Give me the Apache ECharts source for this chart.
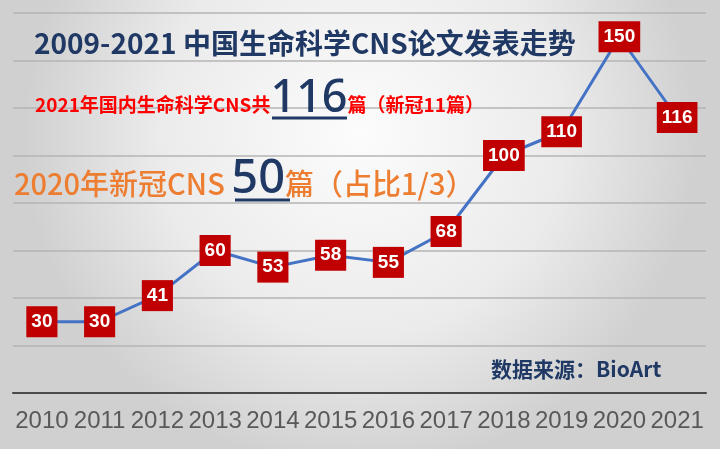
<!DOCTYPE html>
<html>
<head>
<meta charset="utf-8">
<script src="https://cdn.jsdelivr.net/npm/echarts@6/dist/echarts.min.js"></script>
<style>
  html, body { margin: 0; padding: 0; }
  #main { width: 720px; height: 449px; }
</style>
</head>
<body>
<div id="main"></div>
<script>
// 年份与论文数
const years = ['2010', '2011', '2012', '2013', '2014', '2015', '2016', '2017', '2018', '2019', '2020', '2021']
const papers = [30, 30, 41, 60, 53, 58, 55, 68, 100, 110, 150, 116]

const cjk = '"Noto Sans CJK SC", "Liberation Sans", sans-serif'
const navy = '#1F3864'

const chart = echarts.init(document.getElementById('main'))

const option = {
  backgroundColor: {
    type: 'radial', x: 0.5, y: 0.3, r: 0.75,
    colorStops: [
      { offset: 0, color: '#fcfcfc' },
      { offset: 0.6, color: '#ebebeb' },
      { offset: 1, color: '#d0d0d0' }
    ]
  },
  title: [
    {
      text: '2009-2021 中国生命科学CNS论文发表走势',
      left: 29, top: 24,
      textStyle: { fontFamily: cjk, fontSize: 28, fontWeight: 'bold', color: navy }
    },
    {
      text: '{a|2021年国内生命科学CNS共}{b|116}{a|篇（新冠11篇）}',
      left: 30, top: 71,
      textStyle: {
        rich: {
          a: { fontFamily: cjk, fontSize: 19, fontWeight: 'bold', color: '#FF0000', verticalAlign: 'bottom', lineHeight: 30, padding: [0, 0, 8, 0] },
          b: { fontFamily: '"Noto Sans", sans-serif', fontSize: 45, fontWeight: 500, color: navy, verticalAlign: 'bottom', lineHeight: 46 }
        }
      }
    },
    {
      text: '{a|2020年新冠CNS }{b|50}{a|篇（占比1/3）}',
      left: 9, top: 150,
      textStyle: {
        rich: {
          a: { fontFamily: cjk, fontSize: 29, fontWeight: 500, color: '#ED7D31', verticalAlign: 'bottom', lineHeight: 40, padding: [0, 0, 5, 0] },
          b: { fontFamily: '"Noto Sans", sans-serif', fontSize: 47, fontWeight: 500, color: navy, verticalAlign: 'bottom', lineHeight: 48 }
        }
      }
    },
    {
      text: '数据来源：BioArt',
      left: 486, top: 354,
      textStyle: { fontFamily: cjk, fontSize: 21, fontWeight: 'bold', color: navy }
    }
  ],
  graphic: [
    { type: 'line', shape: { x1: 272, y1: 118, x2: 347, y2: 118 }, style: { stroke: navy, lineWidth: 3 } },
    { type: 'line', shape: { x1: 235, y1: 200, x2: 290, y2: 200 }, style: { stroke: navy, lineWidth: 3 } }
  ],
  grid: { left: 13, right: 14, top: 13, bottom: 56 },
  xAxis: {
    type: 'category',
    data: years,
    boundaryGap: true,
    axisLine: { lineStyle: { color: '#4a4a4a', width: 2 } },
    axisTick: { show: false },
    axisLabel: {
      interval: 0, margin: 16,
      fontFamily: '"Liberation Sans", sans-serif', fontSize: 24, color: '#595959'
    }
  },
  yAxis: {
    type: 'value',
    min: 0, max: 160, interval: 20,
    axisLabel: { show: false },
    axisLine: { show: false },
    axisTick: { show: false },
    splitLine: { lineStyle: { color: '#b4b4b4', width: 1.5 } }
  },
  series: [{
    type: 'line',
    data: papers,
    symbol: 'rect',
    symbolSize: 1,
    itemStyle: { color: '#C00000' },
    lineStyle: { color: '#4472C4', width: 3 },
    label: {
      show: true,
      position: 'inside',
      backgroundColor: '#C00000',
      color: '#ffffff',
      fontFamily: '"Liberation Sans", sans-serif',
      fontSize: 19,
      fontWeight: 'bold',
      padding: [7, 5, 5, 5]
    },
    animation: false
  }]
}

chart.setOption(option)
</script>
</body>
</html>
